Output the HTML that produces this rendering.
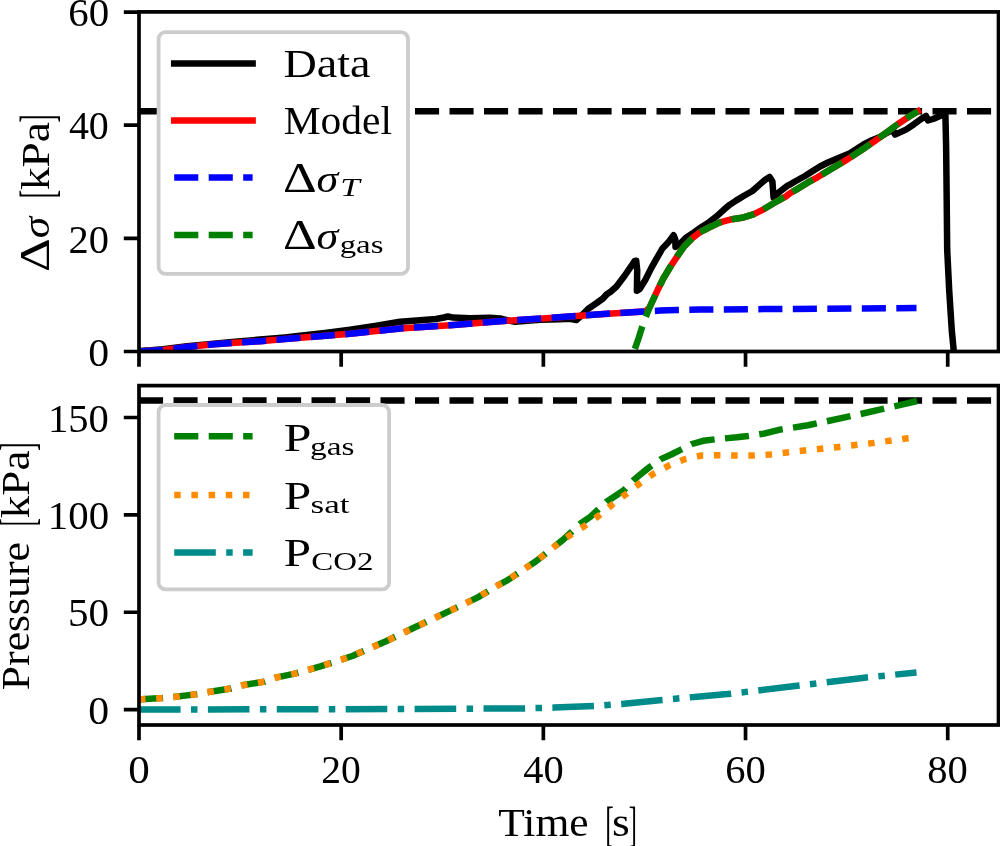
<!DOCTYPE html>
<html><head><meta charset="utf-8"><title>Plot</title>
<style>html,body{margin:0;padding:0;background:#fff;}svg{display:block;}</style>
</head><body>
<svg width="1000" height="846" viewBox="0 0 1000 846">
<rect width="1000" height="846" fill="#fff"/>
<defs>
<clipPath id="ct"><rect x="139" y="11.9" width="859.5" height="339.6"/></clipPath>
<clipPath id="cb"><rect x="139" y="385.6" width="859.5" height="339.4"/></clipPath>
</defs>
<line x1="139" y1="111.2" x2="998.5" y2="111.2" stroke="#000" stroke-width="6.5" stroke-dasharray="24.1 10.4" clip-path="url(#ct)"/>
<polyline points="139.0,351.0 151.0,350.3 163.0,349.2 187.0,346.2 211.0,344.0 235.0,341.8 260.0,339.6 285.0,337.4 300.0,335.8 325.0,333.0 350.0,329.8 375.0,326.0 400.0,321.8 420.0,320.3 436.0,319.0 444.0,317.5 448.0,316.5 453.0,317.6 470.0,318.2 490.0,317.8 500.0,318.5 508.0,320.5 515.0,321.8 540.0,319.8 560.0,319.2 570.0,318.8 576.4,320.0 582.0,315.0 589.0,308.2 596.0,303.5 603.0,298.5 606.5,294.5 610.6,291.8 616.3,286.8 624.8,275.5 631.2,266.2 634.6,261.0 636.2,260.8 637.2,270.0 636.9,290.8 639.7,289.0 645.4,279.7 651.1,268.4 656.7,258.4 662.4,248.5 668.1,242.6 673.6,235.3 675.3,239.5 675.5,247.0 680.8,243.0 686.4,237.4 693.6,232.6 701.6,227.0 708.0,223.0 716.0,216.8 724.0,209.6 730.0,204.6 736.0,200.6 743.6,196.0 752.4,191.0 759.6,184.6 765.2,179.8 769.6,177.0 772.4,181.4 773.6,197.4 779.6,191.8 787.6,185.6 790.0,184.5 795.0,181.5 800.4,178.5 805.0,176.0 812.0,171.5 820.0,166.5 828.0,162.5 836.8,158.7 850.0,153.3 863.6,144.5 872.0,140.2 880.0,137.0 888.0,132.3 893.0,129.8 895.0,134.6 906.0,129.6 914.0,124.2 922.0,118.4 926.0,116.0 928.0,120.5 933.0,119.0 941.2,115.5 945.4,114.8 946.1,145.0 946.6,190.0 947.2,250.0 949.2,290.4 951.8,330.6 953.8,351.5 955.0,365.0" fill="none" stroke="#000000" stroke-width="6.5" stroke-linecap="square" stroke-linejoin="round" clip-path="url(#ct)"/>
<polyline points="139.0,351.5 163.0,349.9 187.0,347.0 211.0,344.6 235.0,342.8 260.0,341.2 285.0,339.1 310.0,337.1 350.0,333.8 400.0,328.5 450.0,325.2 500.0,321.2 550.0,317.9 600.0,314.2 620.0,313.0 640.0,311.8 645.5,311.5 649.5,307.5 653.0,300.0 657.7,289.8 663.6,278.0 670.7,266.2 678.4,254.6 684.0,246.6 692.0,238.4 700.0,232.2 708.0,228.0 720.0,222.4 732.0,219.2 742.0,217.8 754.0,214.1 762.0,210.2 774.0,203.0 786.0,196.4 790.0,193.2 798.0,188.6 808.0,182.4 817.0,177.6 832.0,168.4 847.0,159.6 862.0,149.8 874.0,141.6 886.0,132.8 898.0,124.0 910.0,116.0 918.0,111.3" fill="none" stroke="#ff0000" stroke-width="6.5" stroke-linecap="square" stroke-linejoin="round" clip-path="url(#ct)"/>
<polyline points="139.0,351.5 163.0,349.9 187.0,347.0 211.0,344.6 235.0,342.8 260.0,341.2 285.0,339.1 310.0,337.1 350.0,333.8 400.0,328.5 450.0,325.2 500.0,321.2 550.0,317.9 600.0,314.2 620.0,313.0 640.0,311.8 660.0,310.6 677.0,310.0 700.0,309.6 750.0,309.2 795.0,308.9 850.0,308.5 916.5,308.1" fill="none" stroke="#0000ff" stroke-width="6.5" stroke-linecap="butt" stroke-linejoin="round" stroke-dasharray="24.1 10.4" clip-path="url(#ct)"/>
<polyline points="631.0,362.0 634.5,350.0 638.5,338.5 641.9,327.6 645.5,317.7 649.5,307.5 653.0,300.0 657.7,289.8 663.6,278.0 670.7,266.2 678.4,254.6 684.0,246.6 692.0,238.4 700.0,232.2 708.0,228.0 720.0,222.4 732.0,219.2 742.0,217.8 754.0,214.1 762.0,210.2 774.0,203.0 786.0,196.4 790.0,193.2 798.0,188.6 808.0,182.4 817.0,177.6 832.0,168.4 847.0,159.6 862.0,149.8 874.0,141.6 886.0,132.8 898.0,124.0 910.0,116.0 918.0,111.3" fill="none" stroke="#008000" stroke-width="6.5" stroke-linecap="butt" stroke-linejoin="round" stroke-dasharray="23.72 10.23" stroke-dashoffset="20.3" clip-path="url(#ct)"/>
<line x1="139" y1="400.4" x2="998.5" y2="400.4" stroke="#000" stroke-width="6.5" stroke-dasharray="24.1 10.4" clip-path="url(#cb)"/>
<polyline points="139.0,699.5 141.4,699.2 162.2,698.1 173.4,697.1 197.4,694.1 208.6,692.0 231.0,688.5 242.2,685.3 264.6,681.6 275.8,677.6 294.8,673.6 320.4,666.4 352.4,656.0 386.0,641.2 416.0,626.8 446.6,612.4 477.8,597.4 498.8,584.8 507.2,580.4 536.0,561.2 563.2,539.6 580.0,524.0 590.6,516.6 606.6,501.7 623.5,490.5 633.2,480.4 642.4,472.8 650.2,466.6 660.9,459.1 671.2,454.5 680.0,450.1 692.0,444.0 703.2,440.8 716.0,439.2 736.8,437.3 748.0,436.0 764.0,433.6 780.0,429.6 808.0,425.3 856.0,415.0 904.0,404.2 917.0,401.0" fill="none" stroke="#008000" stroke-width="6.5" stroke-linecap="butt" stroke-linejoin="round" stroke-dasharray="24.1 10.4" clip-path="url(#cb)"/>
<polyline points="139.0,699.5 141.4,699.2 162.2,698.1 173.4,697.1 197.4,694.1 208.6,692.0 231.0,688.5 242.2,685.3 264.6,681.6 275.8,677.6 294.8,673.6 320.4,666.4 352.4,656.0 386.0,641.2 416.0,626.8 446.6,612.4 477.8,597.4 498.8,584.8 507.2,580.4 536.0,561.2 563.2,539.6 584.3,526.2 599.1,515.5 611.9,504.9 625.7,494.3 639.6,483.6 653.6,473.6 668.8,465.6 684.8,459.2 701.6,455.5 718.4,455.2 735.2,455.5 752.8,455.5 770.4,454.4 804.4,450.5 839.2,446.9 872.8,443.1 907.6,438.3 917.0,437.2" fill="none" stroke="#ff8c00" stroke-width="6.5" stroke-linecap="butt" stroke-linejoin="round" stroke-dasharray="6.5 10.7" clip-path="url(#cb)"/>
<polyline points="139.0,709.5 300.0,709.3 400.0,709.0 480.0,708.6 525.0,708.4 554.0,707.6 594.0,706.0 622.0,704.0 662.0,700.0 700.0,696.4 727.5,694.1 795.0,686.0 862.5,677.9 916.5,672.5" fill="none" stroke="#008b8b" stroke-width="6.5" stroke-linecap="butt" stroke-linejoin="round" stroke-dasharray="41.6 10.4 6.5 10.4" clip-path="url(#cb)"/>
<rect x="139" y="11.9" width="859.5" height="339.6" fill="none" stroke="#000" stroke-width="3.7" stroke-linejoin="miter"/>
<rect x="139" y="385.6" width="859.5" height="339.4" fill="none" stroke="#000" stroke-width="3.7" stroke-linejoin="miter"/>
<path d="M139.00,351.5v15.2 M139.00,725.0v15.2 M341.18,351.5v15.2 M341.18,725.0v15.2 M543.36,351.5v15.2 M543.36,725.0v15.2 M745.54,351.5v15.2 M745.54,725.0v15.2 M947.72,351.5v15.2 M947.72,725.0v15.2 M139,351.50h-15.2 M139,238.35h-15.2 M139,125.20h-15.2 M139,12.05h-15.2 M139,709.60h-15.2 M139,612.24h-15.2 M139,514.87h-15.2 M139,417.50h-15.2" stroke="#000" stroke-width="3.7" fill="none"/>
<rect x="158.6" y="32.1" width="249.4" height="241.8" rx="7" ry="7" fill="#ffffff" stroke="#cccccc" stroke-width="3.8"/>
<line x1="174.2" y1="63.4" x2="252.6" y2="63.4" stroke="#000" stroke-width="6.5" stroke-linecap="square"/>
<line x1="174.2" y1="120.5" x2="252.6" y2="120.5" stroke="#ff0000" stroke-width="6.5" stroke-linecap="square"/>
<line x1="174.2" y1="177.6" x2="252.6" y2="177.6" stroke="#0000ff" stroke-width="6.5" stroke-dasharray="24.1 10.4"/>
<line x1="174.2" y1="234.9" x2="252.6" y2="234.9" stroke="#008000" stroke-width="6.5" stroke-dasharray="24.1 10.4"/>
<rect x="158.6" y="405.0" width="230.5" height="184.4" rx="7" ry="7" fill="#ffffff" stroke="#cccccc" stroke-width="3.8"/>
<line x1="174.2" y1="436.3" x2="252.6" y2="436.3" stroke="#008000" stroke-width="6.5" stroke-dasharray="24.1 10.4"/>
<line x1="174.2" y1="495.0" x2="252.6" y2="495.0" stroke="#ff8c00" stroke-width="6.5" stroke-dasharray="6.5 10.7"/>
<line x1="174.2" y1="552.5" x2="252.6" y2="552.5" stroke="#008b8b" stroke-width="6.5" stroke-dasharray="41.6 10.4 6.5 10.4"/>
<g font-family='"Liberation Serif", "DejaVu Serif", serif' fill="#000"><text x="88.29" y="365.70" font-size="41" textLength="20.86" lengthAdjust="spacingAndGlyphs">0</text>
<text x="68.54" y="252.55" font-size="41" textLength="40.43" lengthAdjust="spacingAndGlyphs">20</text>
<text x="68.89" y="139.40" font-size="41" textLength="39.97" lengthAdjust="spacingAndGlyphs">40</text>
<text x="68.18" y="26.25" font-size="41" textLength="40.91" lengthAdjust="spacingAndGlyphs">60</text>
<text x="88.29" y="723.80" font-size="41" textLength="20.86" lengthAdjust="spacingAndGlyphs">0</text>
<text x="67.94" y="626.44" font-size="41" textLength="41.03" lengthAdjust="spacingAndGlyphs">50</text>
<text x="47.84" y="529.07" font-size="41" textLength="61.23" lengthAdjust="spacingAndGlyphs">100</text>
<text x="48.04" y="431.70" font-size="41" textLength="60.86" lengthAdjust="spacingAndGlyphs">150</text>
<text x="128.24" y="782.90" font-size="41" textLength="21.52" lengthAdjust="spacingAndGlyphs">0</text>
<text x="321.13" y="782.90" font-size="41" textLength="39.51" lengthAdjust="spacingAndGlyphs">20</text>
<text x="523.17" y="782.90" font-size="41" textLength="40.45" lengthAdjust="spacingAndGlyphs">40</text>
<text x="725.22" y="782.90" font-size="41" textLength="40.55" lengthAdjust="spacingAndGlyphs">60</text>
<text x="927.32" y="782.90" font-size="41" textLength="40.54" lengthAdjust="spacingAndGlyphs">80</text>
<text x="498.22" y="836.40" font-size="40.5" textLength="90.39" lengthAdjust="spacingAndGlyphs">Time</text>
<text x="605.20" y="840.00" font-size="47.8" stroke="none" textLength="8.54" lengthAdjust="spacingAndGlyphs">[</text>
<text x="611.96" y="836.40" font-size="40.5" textLength="17.73" lengthAdjust="spacingAndGlyphs">s</text>
<text x="628.72" y="840.00" font-size="47.8" stroke="none" textLength="8.13" lengthAdjust="spacingAndGlyphs">]</text>
<text x="283.40" y="77.00" font-size="40.5" textLength="87.02" lengthAdjust="spacingAndGlyphs">Data</text>
<text x="283.68" y="134.20" font-size="40.5" textLength="108.26" lengthAdjust="spacingAndGlyphs">Model</text>
<text x="283.10" y="191.70" font-size="43" textLength="33.71" lengthAdjust="spacingAndGlyphs">Δ</text>
<text x="316.41" y="191.70" font-size="37" font-style="italic" textLength="21.76" lengthAdjust="spacingAndGlyphs">σ</text>
<text x="340.32" y="196.00" font-size="26" font-style="italic" textLength="19.48" lengthAdjust="spacingAndGlyphs">T</text>
<text x="283.10" y="248.60" font-size="43" textLength="33.71" lengthAdjust="spacingAndGlyphs">Δ</text>
<text x="316.41" y="248.60" font-size="37" font-style="italic" textLength="21.76" lengthAdjust="spacingAndGlyphs">σ</text>
<text x="339.66" y="252.90" font-size="26" textLength="43.87" lengthAdjust="spacingAndGlyphs">gas</text>
<text x="283.74" y="450.90" font-size="40.5" textLength="27.63" lengthAdjust="spacingAndGlyphs">P</text>
<text x="310.12" y="455.20" font-size="26" textLength="44.51" lengthAdjust="spacingAndGlyphs">gas</text>
<text x="283.98" y="508.70" font-size="40.5" textLength="27.20" lengthAdjust="spacingAndGlyphs">P</text>
<text x="310.56" y="513.00" font-size="26" textLength="39.01" lengthAdjust="spacingAndGlyphs">sat</text>
<text x="283.76" y="566.10" font-size="40.5" textLength="27.33" lengthAdjust="spacingAndGlyphs">P</text>
<text x="311.18" y="570.40" font-size="26" textLength="62.32" lengthAdjust="spacingAndGlyphs">CO2</text>
<g transform="translate(49.3,270) rotate(-90)"><text x="-2.04" y="0.00" font-size="43" textLength="33.84" lengthAdjust="spacingAndGlyphs">Δ</text><text x="31.73" y="0.00" font-size="37" font-style="italic" textLength="21.44" lengthAdjust="spacingAndGlyphs">σ</text><text x="71.87" y="3.60" font-size="47.8" stroke="none" textLength="8.39" lengthAdjust="spacingAndGlyphs">[</text><text x="79.92" y="0.00" font-size="40.5" textLength="67.96" lengthAdjust="spacingAndGlyphs">kPa</text><text x="147.26" y="3.60" font-size="47.8" stroke="none" textLength="8.40" lengthAdjust="spacingAndGlyphs">]</text></g>
<g transform="translate(29.3,688.9) rotate(-90)"><text x="-1.31" y="0.00" font-size="40.5" textLength="148.11" lengthAdjust="spacingAndGlyphs">Pressure</text><text x="162.34" y="3.60" font-size="47.8" stroke="none" textLength="8.42" lengthAdjust="spacingAndGlyphs">[</text><text x="170.58" y="0.00" font-size="40.5" textLength="67.81" lengthAdjust="spacingAndGlyphs">kPa</text><text x="237.79" y="3.60" font-size="47.8" stroke="none" textLength="8.54" lengthAdjust="spacingAndGlyphs">]</text></g></g>
</svg>
</body></html>
